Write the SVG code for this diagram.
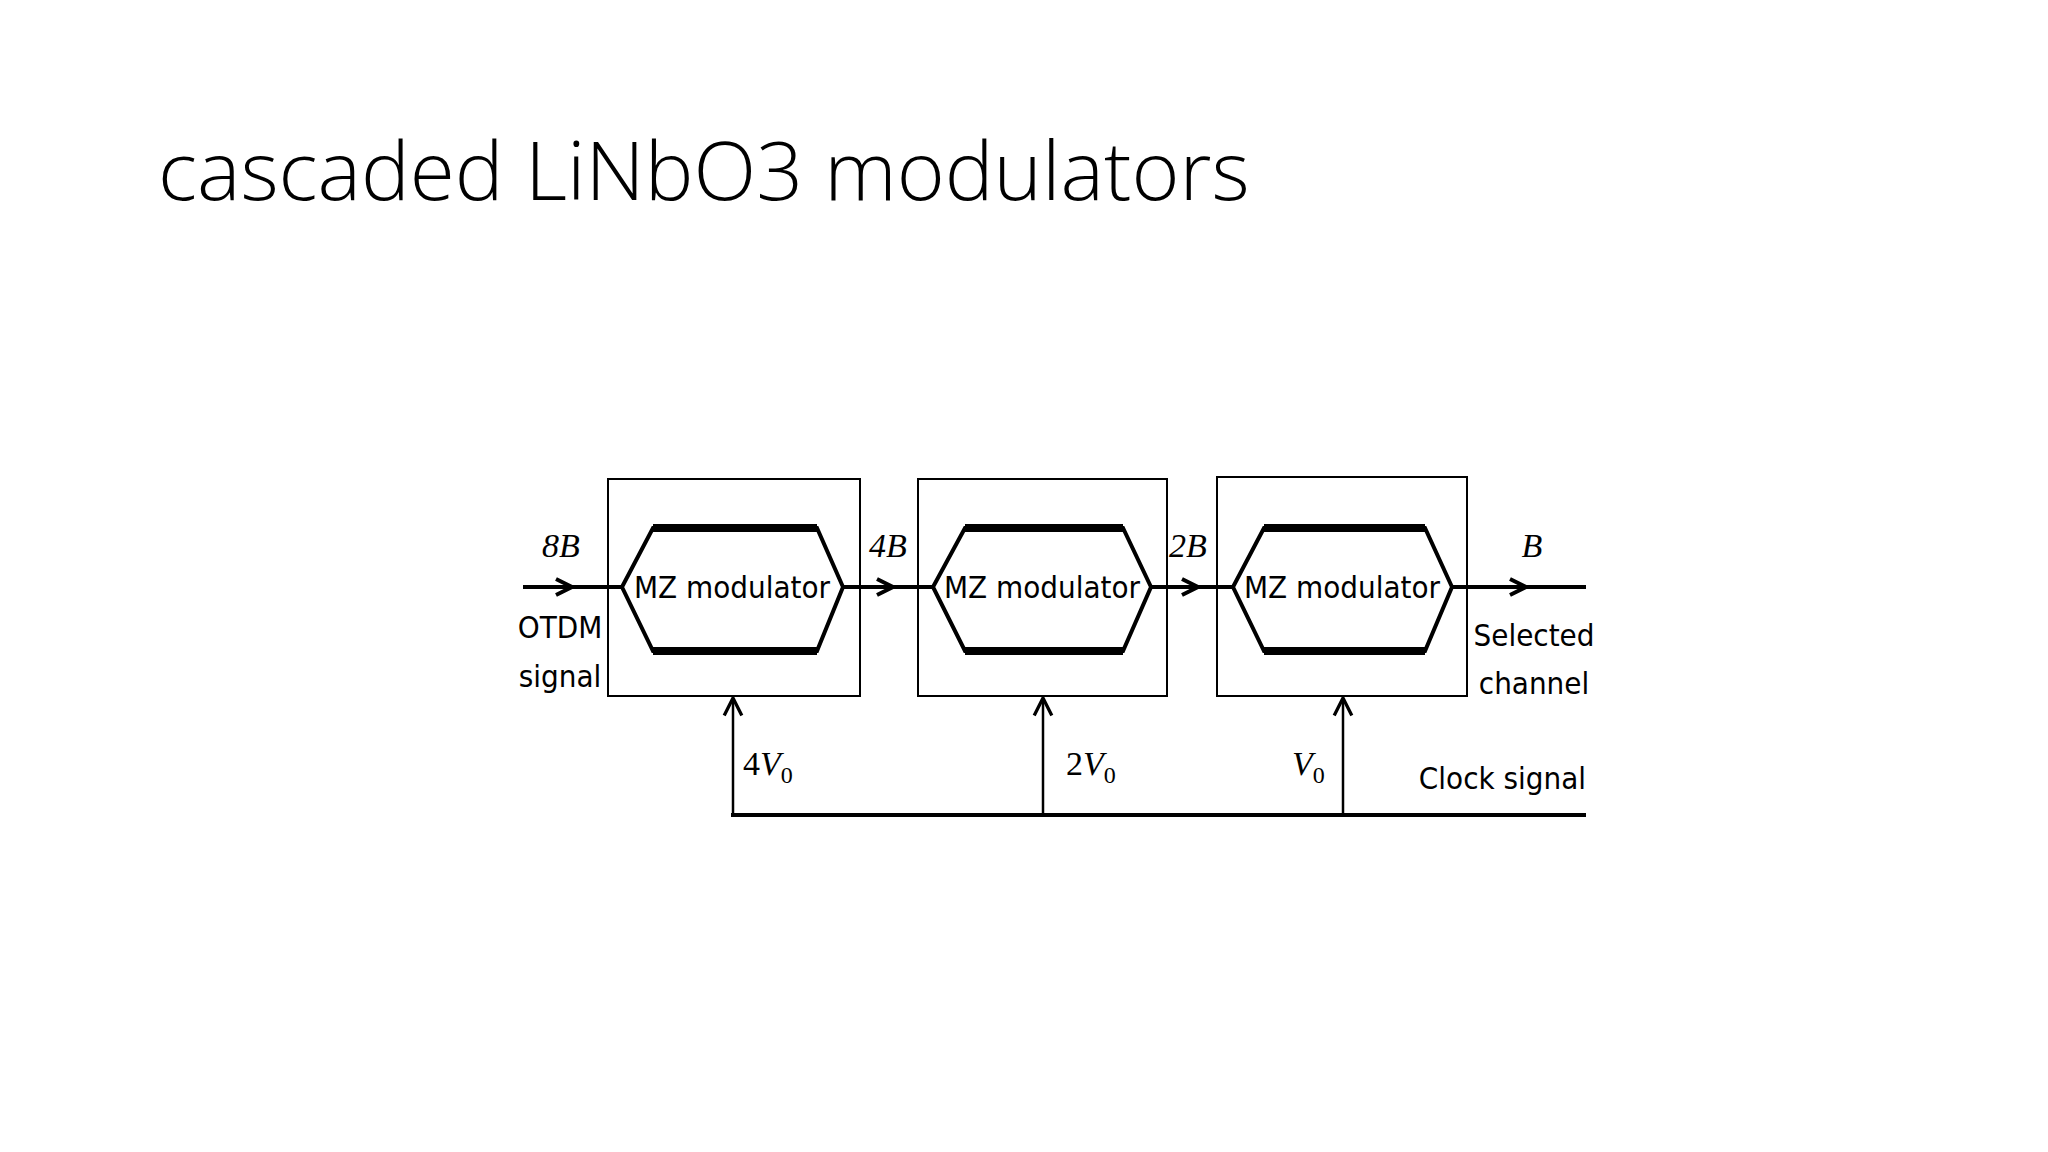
<svg xmlns="http://www.w3.org/2000/svg" width="2048" height="1152" viewBox="0 0 2048 1152">
<style>
.box{fill:none;stroke:#000;stroke-width:2}
.hex{fill:#fff;stroke:#000;stroke-width:4}
.ln{fill:none;stroke:#000;stroke-width:4}
.th{fill:none;stroke:#000;stroke-width:2.5}
.t{font-family:"DejaVu Sans Condensed","DejaVu Sans",sans-serif;font-stretch:condensed;font-size:31px;fill:#000}
.i{font-family:"Liberation Serif",serif;font-style:italic;font-size:34px;fill:#000}
.n{font-family:"Liberation Serif",serif;font-size:34px;fill:#000}
</style>
<defs>
<marker id="a" viewBox="0 0 10 10" refX="9" refY="5" markerWidth="8" markerHeight="8" orient="auto" markerUnits="userSpaceOnUse"><path d="M0,0 L10,5 L0,10" fill="none" stroke="#000" stroke-width="2"/></marker>
<marker id="b" viewBox="0 0 10 10" refX="9" refY="5" markerWidth="22" markerHeight="22" orient="auto" markerUnits="userSpaceOnUse"><path d="M1,1 L9,5 L1,9" fill="none" stroke="#000" stroke-width="1.5"/></marker>
</defs>
<rect width="2048" height="1152" fill="#fff"/>
<text x="158" y="200" font-family="'Open Sans',sans-serif" font-weight="300" font-size="82" fill="#000">cascaded LiNbO3 modulators</text>
<g id="connectors">
<line class="ln" x1="523" y1="587" x2="622" y2="587"/>
<line class="ln" x1="843" y1="587" x2="933" y2="587"/>
<line class="ln" x1="1151" y1="587" x2="1233" y2="587"/>
<line class="ln" x1="1452" y1="587" x2="1586" y2="587"/>
<path class="ln" d="M556,579 L572,587 L556,595" stroke-width="3"/>
<path class="ln" d="M877,579 L893,587 L877,595" stroke-width="3"/>
<path class="ln" d="M1182,579 L1198,587 L1182,595" stroke-width="3"/>
<path class="ln" d="M1510,579 L1526,587 L1510,595" stroke-width="3"/>
<line class="ln" x1="731" y1="815" x2="1586" y2="815"/>
<line class="th" x1="733" y1="815" x2="733" y2="698" marker-end="url(#b)"/>
<line class="th" x1="1043" y1="815" x2="1043" y2="698" marker-end="url(#b)"/>
<line class="th" x1="1343" y1="815" x2="1343" y2="698" marker-end="url(#b)"/>
</g>
<g id="mod1"><rect class="box" x="608" y="479" width="252" height="217"/><path class="hex" d="M622,587 L653,528 L817,528 L843,587 L817,651 L653,651 Z"/><path d="M653,528 H817 M653,651 H817" stroke="#000" stroke-width="8"/><text class="t" x="732" y="598" text-anchor="middle">MZ modulator</text></g>
<g id="mod2"><rect class="box" x="918" y="479" width="249" height="217"/><path class="hex" d="M933,587 L965,528 L1123,528 L1151,587 L1123,651 L965,651 Z"/><path d="M965,528 H1123 M965,651 H1123" stroke="#000" stroke-width="8"/><text class="t" x="1042" y="598" text-anchor="middle">MZ modulator</text></g>
<g id="mod3"><rect class="box" x="1217" y="477" width="250" height="219"/><path class="hex" d="M1233,587 L1264,528 L1425,528 L1452,587 L1425,651 L1264,651 Z"/><path d="M1264,528 H1425 M1264,651 H1425" stroke="#000" stroke-width="8"/><text class="t" x="1342" y="598" text-anchor="middle">MZ modulator</text></g>
<g id="labels">
<text class="i" x="561" y="557" text-anchor="middle">8B</text>
<text class="i" x="888" y="557" text-anchor="middle">4B</text>
<text class="i" x="1188" y="557" text-anchor="middle">2B</text>
<text class="i" x="1532" y="557" text-anchor="middle">B</text>
<text class="t" x="560" y="638" text-anchor="middle">OTDM</text>
<text class="t" x="560" y="687" text-anchor="middle">signal</text>
<text class="t" x="1534" y="646" text-anchor="middle">Selected</text>
<text class="t" x="1534" y="694" text-anchor="middle">channel</text>
<text class="n" x="743" y="775">4<tspan font-style="italic">V</tspan><tspan font-size="24" dy="8">0</tspan></text>
<text class="n" x="1066" y="775">2<tspan font-style="italic">V</tspan><tspan font-size="24" dy="8">0</tspan></text>
<text class="n" x="1292" y="775"><tspan font-style="italic">V</tspan><tspan font-size="24" dy="8">0</tspan></text>
<text class="t" x="1586" y="789" text-anchor="end">Clock signal</text>
</g>
</svg>
